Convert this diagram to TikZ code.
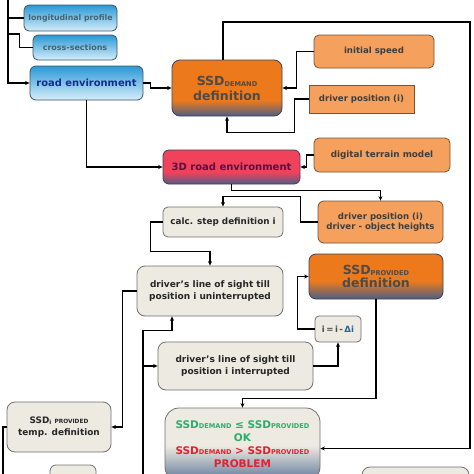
\documentclass[tikz,border=0pt]{standalone}
\usepackage{fontspec}
\setmainfont{DejaVu Sans}
\usetikzlibrary{arrows.meta,positioning}

\definecolor{bluetop}{HTML}{2B98D6}
\definecolor{bluebot}{HTML}{D6EEFA}
\definecolor{blueline}{HTML}{3D5566}
\definecolor{proftext}{HTML}{466470}
\definecolor{roadtext}{HTML}{142C8C}
\definecolor{ssdorange}{HTML}{EC7A1C}
\definecolor{slate}{HTML}{4D5E85}
\definecolor{demtext}{HTML}{4B4B4B}
\definecolor{lightorange}{HTML}{F5A05C}
\definecolor{orangeline}{HTML}{7A5234}
\definecolor{lighttext}{HTML}{3E3E3E}
\definecolor{redtop}{HTML}{F1415B}
\definecolor{redtext}{HTML}{5B0F3E}
\definecolor{beige}{HTML}{ECEAE1}
\definecolor{beigeline}{HTML}{707070}
\definecolor{checkslate}{HTML}{5F7799}
\definecolor{okgreen}{HTML}{2BAE6A}
\definecolor{probred}{HTML}{E5202E}
\definecolor{deltablue}{HTML}{2D5F9E}

% shadings: the path covers 25bp..75bp
\pgfdeclareverticalshading{demshade}{100bp}{color(0bp)=(slate); color(25bp)=(slate);
  color(39bp)=(ssdorange); color(75bp)=(ssdorange); color(100bp)=(ssdorange)}
\pgfdeclareverticalshading{provshade}{100bp}{color(0bp)=(slate); color(25bp)=(slate);
  color(45bp)=(ssdorange); color(75bp)=(ssdorange); color(100bp)=(ssdorange)}
\pgfdeclareverticalshading{redshade}{100bp}{color(0bp)=(slate); color(25bp)=(slate);
  color(42bp)=(redtop); color(75bp)=(redtop); color(100bp)=(redtop)}
\pgfdeclareverticalshading{checkshade}{100bp}{color(0bp)=(checkslate); color(25bp)=(checkslate);
  color(49bp)=(beige); color(75bp)=(beige); color(100bp)=(beige)}

\newcommand{\smallsub}[1]{{\fontsize{6.6}{7}\selectfont #1}}
\newcommand{\tinysub}[1]{{\fontsize{5.8}{6}\selectfont #1}}

\tikzset{
  box/.style={draw, line width=0.8pt, align=center, font=\bfseries, inner sep=1pt},
  bluebox/.style={box, draw=blueline, rounded corners=5pt, top color=bluetop, bottom color=bluebot},
  ssdbox/.style={box, draw=slate!70!black, rounded corners=8pt, shading=demshade, text=demtext,
    font=\bfseries\fontsize{12.5}{15}\selectfont},
  inbox/.style={box, draw=orangeline, rounded corners=5pt, fill=lightorange, text=lighttext,
    font=\bfseries\fontsize{8.6}{10.5}\selectfont},
  stepbox/.style={box, draw=beigeline, rounded corners=6pt, fill=beige, text=black!85,
    font=\bfseries\fontsize{9}{12.5}\selectfont},
  link/.style={draw, line width=1.1pt},
}

\begin{document}
\begin{tikzpicture}[x=1pt,y=-1pt,>={Stealth[length=4.5pt,width=4pt]}]
  \useasboundingbox (0,0) rectangle (474,474);
  \clip (0,0) rectangle (474,474);
  % road data
  \node[bluebox, text=proftext, font=\bfseries\fontsize{7.8}{9}\selectfont,
    minimum width=93, minimum height=26] (prof) at (70.5,18) {longitudinal profile};
  \node[bluebox, text=proftext, font=\bfseries\fontsize{8}{9}\selectfont,
    minimum width=84, minimum height=25] (cross) at (75,47.5) {cross-sections};
  \node[bluebox, rounded corners=6pt, text=roadtext, font=\bfseries\fontsize{9.9}{11}\selectfont,
    minimum width=113, minimum height=34] (road) at (86.5,83) {road environment};
  % demanded sight distance
  \node[ssdbox, minimum width=110, minimum height=56] (ssddem) at (227,88)
    {SSD\raisebox{-1pt}{\smallsub{DEMAND}}\\definition};
  \node[inbox, minimum width=120, minimum height=33] (speed) at (374,51.5) {initial speed};
  \node[inbox, rounded corners=0pt, minimum width=105, minimum height=28] (pos1) at (361.5,99)
    {driver position (i)};
  % 3D model
  \node[box, draw=slate!70!black, rounded corners=6pt, shading=redshade, text=redtext,
    font=\bfseries\fontsize{10}{11}\selectfont,
    minimum width=137, minimum height=34] (road3d) at (231.5,167) {3D road environment};
  \node[inbox, font=\bfseries\fontsize{8.8}{10.5}\selectfont,
    minimum width=136, minimum height=34] (dtm) at (382,155) {digital terrain model};
  \node[inbox, rounded corners=6pt, minimum width=125, minimum height=42] (pos2) at (380.5,222)
    {driver position (i)\\driver - object heights};
  % sight check loop
  \node[stepbox, rounded corners=5pt, font=\bfseries\fontsize{8.8}{10}\selectfont,
    minimum width=120, minimum height=30] (step) at (223,222) {calc. step definition i};
  \node[stepbox, rounded corners=8pt, minimum width=146, minimum height=50] (sight1) at (210,291)
    {driver’s line of sight till\\position i uninterrupted};
  \node[ssdbox, shading=provshade, rounded corners=7pt, minimum width=134, minimum height=45]
    (ssdprov) at (376,276.5) {SSD\raisebox{-1pt}{\smallsub{PROVIDED}}\\[-2pt]definition};
  \node[stepbox, rounded corners=4pt, font=\bfseries\fontsize{8.6}{9}\selectfont, text=demtext,
    minimum width=46, minimum height=26] (dec) at (338,329)
    {i\,=\,i\,-\,\textcolor{deltablue}{Δi}};
  \node[stepbox, rounded corners=8pt, minimum width=155, minimum height=48] (sight2) at (235.5,366)
    {driver’s line of sight till\\position i interrupted};
  \node[stepbox, rounded corners=8pt, font=\bfseries\fontsize{8.9}{11.5}\selectfont,
    minimum width=104, minimum height=50] (ssdi) at (59,427)
    {SSD\raisebox{-1pt}{\tinysub{i} }\tinysub{PROVIDED}\\temp. definition};
  \node[box, draw=beigeline, rounded corners=14pt, shading=checkshade,
    font=\bfseries\fontsize{10.5}{13}\selectfont, minimum width=155, minimum height=73]
    (check) at (242.5,444.5)
    {\textcolor{okgreen}{SSD\smallsub{DEMAND} ≤ SSD\smallsub{PROVIDED}}\\
     \textcolor{okgreen}{OK}\\
     \textcolor{probred}{SSD\smallsub{DEMAND} > SSD\smallsub{PROVIDED}}\\
     \textcolor{probred}{PROBLEM}};
  \node[stepbox, minimum width=46, minimum height=30] (box1) at (73,480) {};
  \node[stepbox, rounded corners=8pt, minimum width=107, minimum height=30] (box2) at (415.5,482) {};

  % free ends of the lines
  \coordinate (top) at (8,0);
  \coordinate (corner) at (470,22);
  \coordinate (out1) at (3,490);
  \coordinate (in1) at (143,490);

  % connectors
  \draw[link,->] (top) |- (road.west);
  \draw[link] (prof.west) -- (prof.west -| top);
  \draw[link] (cross.west) -- ++(-13,0) -- ++(0,-13.5) -- ++(-12,0);
  \draw[link,->] (road.east) -- ++(7,0) |- (ssddem.west);
  \draw[link,->] ([xshift=-4pt]ssddem.north) |- (corner) |- ([yshift=-4pt]check.east);
  \draw[link,->] (speed.west) -- ++(-17,0) |- (ssddem.east);
  \draw[link,->] (pos1.west) -- ++(-14,0) |- ([yshift=-16pt]ssddem.south) -- (ssddem.south);
  \draw[link,->] (road.south) |- (road3d.west);
  \draw[link,->] (dtm.west) -- ++(-7,0) |- (road3d.east);
  \draw[link,->] (road3d.south) -- ++(0,6) -| (pos2.north);
  \draw[link,->] (pos2.west) -- ++(-17,0) |- ([yshift=10pt]step.north) -- (step.north);
  \draw[link,->] (step.west) -- ++(-12,0) |- ([yshift=14pt]sight1.north) -- (sight1.north);
  \draw[link,->] (dec.west) -- ++(-17,0) |- (ssdprov.west);
  \draw[link,->] (sight2.east) -| (dec.south);
  \draw[link,->] (ssdprov.south) -- ++(0,99) -| (check.north);
  \draw[link,->] (sight1.west) -- ++(-14,0) |- (ssdi.east);
  \draw[link] (ssdi.west) -| (out1);
  \draw[link,->] (in1) |- ([xshift=-38pt,yshift=-14pt]sight1.south) -- ([xshift=-38pt]sight1.south);
  \draw[link,->] (in1 |- sight2.west) -- (sight2.west);
\end{tikzpicture}
\end{document}
